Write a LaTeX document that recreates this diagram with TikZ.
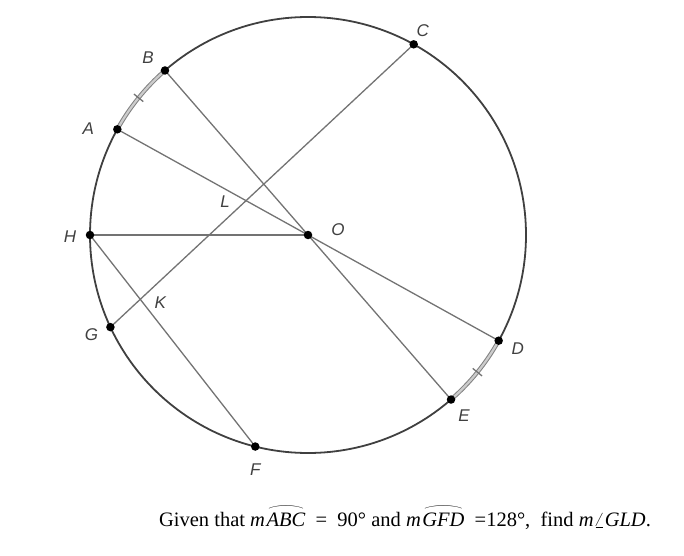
\documentclass[tikz,border=0pt]{standalone}
\usepackage{fontspec}
\setmainfont{Liberation Serif}
\setsansfont{Liberation Sans}
\usepackage{graphicx}
\usetikzlibrary{calc}

% arc sign over a text
\newsavebox\arcbox
\newcommand\arcover[1]{\sbox\arcbox{#1}\kern1.5pt\rlap{#1}\raisebox{\dimexpr\ht\arcbox+3pt\relax}{\resizebox{\wd\arcbox}{4.5pt}{$\frown$}}}

\begin{document}
\begin{tikzpicture}[
    x=1pt, y=1pt,
    dot/.style={circle, fill=black, inner sep=0pt, minimum size=8.5pt},
    pt/.style={font=\sffamily\itshape\fontsize{17}{17}\selectfont, text=black!75},
    rim/.style={draw=black!75, line width=1.8pt},
    chord/.style={draw=black!55, line width=1.3pt},
    congr/.style={draw=black!50, line width=1pt, double=black!20, double distance=2.2pt}
]
\useasboundingbox (0,0) rectangle (684,555);
\def\rad{218}

\coordinate (O) at (308,320);
\coordinate (A) at ($(O)+(151:\rad)$);
\coordinate (B) at ($(O)+(131:\rad)$);
\coordinate (C) at ($(O)+(61:\rad)$);
\coordinate (D) at ($(O)+(331:\rad)$);
\coordinate (E) at ($(O)+(311:\rad)$);
\coordinate (F) at ($(O)+(256:\rad)$);
\coordinate (G) at ($(O)+(205:\rad)$);
\coordinate (H) at ($(O)+(180:\rad)$);
\coordinate (L) at (intersection of A--D and C--G);
\coordinate (K) at (intersection of H--F and C--G);

\draw[rim] (O) circle (\rad);

% congruent arcs AB and DE
\draw[congr] (A) arc (151:131:\rad);
\draw[congr] (D) arc (331:311:\rad);
\draw[chord] ($(O)+(141:{\rad-6})$) -- ($(O)+(141:{\rad+6})$);
\draw[chord] ($(O)+(321:{\rad-6})$) -- ($(O)+(321:{\rad+6})$);

\draw[chord] (B) -- (E);
\draw[chord] (A) -- (D);
\draw[chord] (C) -- (G);
\draw[chord] (H) -- (O);
\draw[chord] (H) -- (F);

\foreach \p in {A,B,C,D,E,F,G,H,O}
  \node[dot] (d\p) at (\p) {};

\node[pt] (lA) at ($(A)+(-29,1)$) {A};
\node[pt] (lB) at ($(B)+(-17,13)$) {B};
\node[pt] (lC) at ($(C)+(9,14)$) {C};
\node[pt] (lD) at ($(D)+(19,-8)$) {D};
\node[pt] (lE) at ($(E)+(13,-16)$) {E};
\node[pt] (lF) at ($(F)+(0,-23)$) {F};
\node[pt] (lG) at ($(G)+(-19,-8)$) {G};
\node[pt] (lH) at ($(H)+(-20,-2)$) {H};
\node[pt] (lO) at ($(O)+(30,5)$) {O};
\node[pt] (lL) at ($(L)+(-21,-1)$) {L};
\node[pt] (lK) at ($(K)+(20,-3)$) {K};

\node[font=\fontsize{20.5}{20.5}\selectfont] (task) at (405,37)
  {Given that \textit{m}\arcover{\textit{ABC}} \ = \ 90° and \textit{m}\arcover{\textit{GFD}} \ =128°, \ find \textit{m}$\angle$\textit{GLD}.};

\end{tikzpicture}
\end{document}
